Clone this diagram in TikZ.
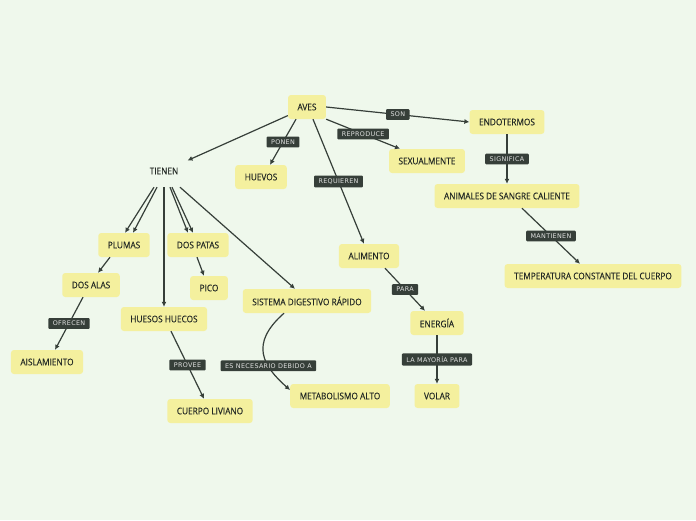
\documentclass[tikz,border=0pt]{standalone}
\usepackage{fontspec}
\setmainfont{Open Sans}[FakeStretch=0.9, FakeBold=0.3]
\newfontfamily\tagfont{DejaVu Sans}[LetterSpace=5]
\usepackage{tikz}
\usetikzlibrary{arrows.meta, calc}
\definecolor{bgmint}{HTML}{EFF8EC}
\definecolor{ideayellow}{HTML}{F4F09E}
\definecolor{tagdark}{HTML}{363F39}
\definecolor{inkgray}{HTML}{232925}
\def\linkw{1.2pt}

\begin{document}
\begin{tikzpicture}[x=1pt, y=-1pt,
	idea/.style={fill=ideayellow, rounded corners=3pt, minimum height=24pt, inner xsep=9.5pt, text=inkgray, font=\fontsize{9.2}{10}\selectfont},
	bare/.style={minimum height=32pt, inner xsep=9pt, text=inkgray, font=\fontsize{9.2}{10}\selectfont},
	tag/.style={fill=tagdark, rounded corners=1pt, text=white!85!tagdark, font=\tagfont\fontsize{6.4}{7}\selectfont, inner xsep=4.5pt, inner ysep=3pt},
	link/.style={draw=tagdark, line width=\linkw, -{Latex[length=5pt,width=5pt]}}]

	\fill[bgmint] (0,0) rectangle (696,520);
	\useasboundingbox (0,0) rectangle (696,520);

	\node[idea] (aves) at (307,107) {AVES};
	\node[bare] (tienen) at (164,171) {TIENEN};
	\node[idea] (huevos) at (261,177) {HUEVOS};
	\node[idea] (plumas) at (124,245) {PLUMAS};
	\node[idea] (dospatas) at (198,245) {DOS PATAS};
	\node[idea] (pico) at (209,288) {PICO};
	\node[idea] (dosalas) at (91,285) {DOS ALAS};
	\node[idea] (huesos) at (164,319) {HUESOS HUECOS};
	\node[idea] (sistema) at (307,301) {SISTEMA DIGESTIVO RÁPIDO};
	\node[idea] (aislamiento) at (47,362) {AISLAMIENTO};
	\node[idea] (cuerpo) at (210,411) {CUERPO LIVIANO};
	\node[idea] (metabolismo) at (340,396) {METABOLISMO ALTO};
	\node[idea] (sexual) at (427,161) {SEXUALMENTE};
	\node[idea] (alimento) at (369,256) {ALIMENTO};
	\node[idea] (endotermos) at (507,122) {ENDOTERMOS};
	\node[idea] (sangre) at (507,196) {ANIMALES DE SANGRE CALIENTE};
	\node[idea] (temperatura) at (593,276) {TEMPERATURA CONSTANTE DEL CUERPO};
	\node[idea] (energia) at (437,323) {ENERGÍA};
	\node[idea] (volar) at (437,396) {VOLAR};

	\draw[link] (aves) -- (tienen);
	\draw[link] ([xshift=-11pt]aves.south) -- ([xshift=9pt]huevos.north) node[tag, midway] {PONEN};
	\draw[link] (aves.south east) -- ([xshift=-27pt]sexual.north) node[tag, midway] {REPRODUCE};
	\draw[link] (aves.east) -- (endotermos.west) node[tag, midway] {SON};
	\draw[link] ([xshift=6pt]aves.south) -- ([xshift=-5pt]alimento.north) node[tag, midway] {REQUIEREN};

	\draw[link] ([xshift=-10pt]tienen.south) -- ([xshift=1pt]plumas.north);
	\draw[link] ([xshift=-7pt]tienen.south) -- ([xshift=9pt]plumas.north);
	\draw[link] ([xshift=6pt]tienen.south) -- ([xshift=-10pt]dospatas.north);
	\draw[link] ([xshift=8pt]tienen.south) -- ([xshift=-5pt]dospatas.north);
	\draw[link] (tienen.south) -- (huesos.north);
	\draw[link] ([xshift=16pt]tienen.south) -- ([xshift=-12pt]sistema.north);

	\draw[link] ([xshift=-14pt]plumas.south) -- ([xshift=7pt]dosalas.north);
	\draw[link] ([xshift=-1pt]dospatas.south) -- ([xshift=-5pt]pico.north);
	\draw[link] ([xshift=-8pt]dosalas.south) -- ([xshift=8pt]aislamiento.north) node[tag, midway] {OFRECEN};
	\draw[link] ([xshift=7pt]huesos.south) -- ([xshift=-6pt]cuerpo.north) node[tag, midway] {PROVEE};
	\draw[link] ([xshift=-23pt]sistema.south) .. controls (249,344) and (263,366) .. ([yshift=6pt]metabolismo.west) node[tag, pos=0.66] {ES NECESARIO DEBIDO A};

	\draw[link] (endotermos.south) -- (sangre.north) node[tag, midway] {SIGNIFICA};
	\draw[link] ([xshift=15pt]sangre.south) -- ([xshift=-13pt]temperatura.north) node[tag, midway] {MANTIENEN};
	\draw[link] ([xshift=16pt]alimento.south) -- ([xshift=-12pt]energia.north) node[tag, midway] {PARA};
	\draw[link] (energia.south) -- (volar.north) node[tag, midway] {LA MAYORÍA PARA};

\end{tikzpicture}
\end{document}
